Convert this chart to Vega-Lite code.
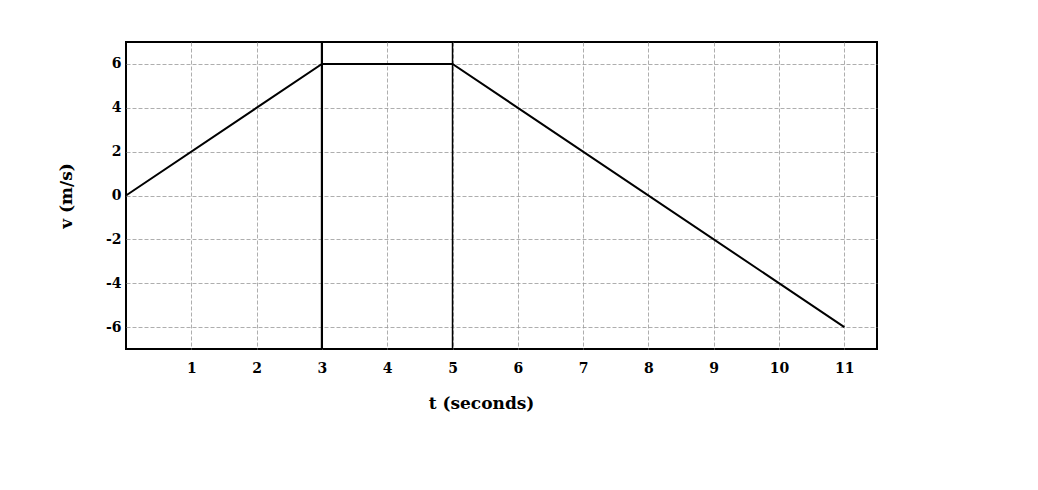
{
  "$schema": "https://vega.github.io/schema/vega-lite/v6.json",
  "width": 751,
  "height": 307,
  "autosize": {"type": "none"},
  "padding": {"left": 126, "top": 42, "right": 161, "bottom": 141},
  "background": "white",
  "config": {
    "view": {"stroke": "black", "strokeWidth": 2},
    "axis": {
      "labelFont": "DejaVu Serif",
      "titleFont": "DejaVu Serif",
      "labelColor": "black",
      "titleColor": "black",
      "labelFontWeight": "bold",
      "titleFontWeight": "bold",
      "labelFontSize": 14,
      "titleFontSize": 17,
      "domain": false,
      "ticks": false,
      "gridColor": "#999999",
      "gridDash": [4, 2],
      "gridWidth": 0.8
    }
  },
  "datasets": {
    "v": [
      {"t": 0, "v": 0},
      {"t": 3, "v": 6},
      {"t": 5, "v": 6},
      {"t": 11, "v": -6}
    ],
    "marks": [
      {"t": 3, "w": 2.2},
      {"t": 5, "w": 1.5}
    ]
  },
  "layer": [
    {
      "data": {"name": "v"},
      "mark": {"type": "line", "color": "black", "strokeWidth": 2},
      "encoding": {
        "x": {
          "field": "t",
          "type": "quantitative",
          "scale": {"domain": [0, 11.5], "nice": false, "zero": false},
          "axis": {
            "values": [1, 2, 3, 4, 5, 6, 7, 8, 9, 10, 11],
            "format": "d",
            "title": "t (seconds)",
            "labelPadding": 12,
            "titlePadding": 20,
            "titleX": 355
          }
        },
        "y": {
          "field": "v",
          "type": "quantitative",
          "scale": {"domain": [-7, 7], "nice": false},
          "axis": {
            "values": [-6, -4, -2, 0, 2, 4, 6],
            "format": "d",
            "labelExpr": "replace(datum.label, '\u2212', '-')",
            "title": "v (m/s)",
            "labelPadding": 5,
            "titlePadding": 30
          }
        }
      }
    },
    {
      "data": {"name": "marks"},
      "mark": {"type": "rule", "color": "black"},
      "encoding": {
        "x": {"field": "t", "type": "quantitative"},
        "strokeWidth": {"field": "w", "type": "quantitative", "scale": null}
      }
    }
  ]
}
